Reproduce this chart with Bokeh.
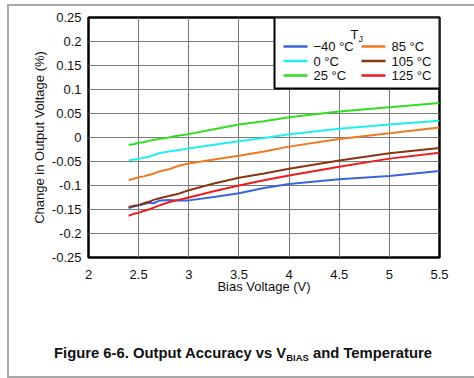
from bokeh.plotting import figure
from bokeh.models import Range1d, FixedTicker, Label, Div
from bokeh.layouts import column
from bokeh.embed import file_html
from bokeh.resources import INLINE

# ---- data ----
bias_v = [2.4, 2.45, 2.5, 2.55, 2.6, 2.65, 2.7, 2.8, 2.9, 3.0, 3.25, 3.5, 3.75, 4.0, 4.5, 5.0, 5.5]
t_m40 = [-0.147, -0.144, -0.141, -0.139, -0.136, -0.137, -0.132, -0.130, -0.131, -0.131, -0.124, -0.116, -0.105, -0.097, -0.087, -0.080, -0.070]
t_0 = [-0.048, -0.046, -0.045, -0.042, -0.040, -0.037, -0.033, -0.029, -0.026, -0.023, -0.015, -0.008, -0.001, 0.007, 0.018, 0.027, 0.035]
t_25 = [-0.015, -0.014, -0.011, -0.010, -0.007, -0.005, -0.003, 0.000, 0.004, 0.007, 0.017, 0.027, 0.034, 0.042, 0.054, 0.063, 0.072]
t_85 = [-0.089, -0.086, -0.083, -0.081, -0.078, -0.075, -0.071, -0.066, -0.059, -0.054, -0.046, -0.038, -0.029, -0.019, -0.003, 0.009, 0.021]
t_105 = [-0.145, -0.142, -0.141, -0.137, -0.134, -0.130, -0.127, -0.122, -0.117, -0.110, -0.096, -0.084, -0.075, -0.065, -0.048, -0.033, -0.022]
t_125 = [-0.163, -0.159, -0.157, -0.153, -0.150, -0.146, -0.142, -0.135, -0.130, -0.125, -0.112, -0.100, -0.089, -0.079, -0.061, -0.044, -0.032]

series_names = ["\u221240 \u00b0C", "0 \u00b0C", "25 \u00b0C", "85 \u00b0C", "105 \u00b0C", "125 \u00b0C"]
series_values = [t_m40, t_0, t_25, t_85, t_105, t_125]
series_colors = ["#3a64dc", "#22eeee", "#33dd22", "#f07a22", "#8b3510", "#ee1c1c"]

x_ticks = [2, 2.5, 3, 3.5, 4, 4.5, 5, 5.5]
x_tick_labels = ["2", "2.5", "3", "3.5", "4", "4.5", "5", "5.5"]
y_ticks = [-0.25, -0.2, -0.15, -0.1, -0.05, 0, 0.05, 0.1, 0.15, 0.2, 0.25]
y_tick_labels = ["-0.25", "-0.2", "-0.15", "-0.1", "-0.05", "0", "0.05", "0.1", "0.15", "0.2", "0.25"]

caption_main = "Figure 6-6. Output Accuracy vs V"
caption_sub = "BIAS"
caption_tail = " and Temperature"

FONT = "Liberation Sans"
XMIN, XMAX, YMIN, YMAX = 2.0, 5.5, -0.25, 0.25

# reference page-pixel geometry of the plot frame (for placing legend annotations)
FL, FR, FT, FB = 88, 439, 17, 257
def px2x(px):
    return XMIN + (px - FL) / (FR - FL) * (XMAX - XMIN)
def py2y(py):
    return YMAX - (py - FT) / (FB - FT) * (YMAX - YMIN)

p = figure(width=458, height=294, output_backend="svg", toolbar_location=None,
           x_range=Range1d(XMIN, XMAX), y_range=Range1d(YMIN, YMAX),
           min_border_left=79, min_border_right=28, min_border_top=11, min_border_bottom=43)

p.outline_line_color = "black"
p.outline_line_width = 2.5
p.background_fill_color = "white"
p.border_fill_color = "white"

for ax in (p.xaxis[0], p.yaxis[0]):
    ax.axis_line_color = None
    ax.major_tick_line_color = None
    ax.minor_tick_line_color = None
    ax.major_label_text_font = FONT
    ax.major_label_text_font_size = "13px"
    ax.major_label_text_color = "#111111"
    ax.axis_label_text_font = FONT
    ax.axis_label_text_font_size = "13px"
    ax.axis_label_text_font_style = "normal"
    ax.axis_label_text_color = "#111111"

p.xaxis.ticker = FixedTicker(ticks=x_ticks)
p.xaxis.major_label_overrides = {t: l for t, l in zip(x_ticks, x_tick_labels)}
p.yaxis.ticker = FixedTicker(ticks=y_ticks)
p.yaxis.major_label_overrides = {t: l for t, l in zip(y_ticks, y_tick_labels)}
p.xaxis.major_label_standoff = 6
p.yaxis.major_label_standoff = 1
p.xaxis.axis_label = "Bias Voltage (V)"
p.yaxis.axis_label = "Change in Output Voltage (%)"
p.xaxis.axis_label_standoff = -3
p.yaxis.axis_label_standoff = 2

p.xgrid.grid_line_color = "#7a7a7a"
p.ygrid.grid_line_color = "#7a7a7a"
p.xgrid.ticker = FixedTicker(ticks=x_ticks)
p.ygrid.ticker = FixedTicker(ticks=y_ticks)

for vals, col in zip(series_values, series_colors):
    p.line(bias_v, vals, line_color=col, line_width=2)

# ---- legend (manual, to allow the T_J subscript) ----
p.quad(left=[px2x(274)], right=[XMAX], top=[YMAX], bottom=[py2y(88)],
       fill_color="white", line_color="black", line_width=2)
rows_py = [46, 60.5, 75]
cols = [(283, 307, 313), (361, 385, 391)]
for i, (name, col) in enumerate(zip(series_names, series_colors)):
    c = cols[i // 3]
    r = rows_py[i % 3]
    p.segment(x0=[px2x(c[0])], x1=[px2x(c[1])], y0=[py2y(r)], y1=[py2y(r)],
              line_color=col, line_width=2.5)
    p.add_layout(Label(x=px2x(c[2]), y=py2y(r), text=name, text_font=FONT,
                       text_font_size="13px", text_baseline="middle", text_align="left",
                       text_color="#111111"))
p.add_layout(Label(x=px2x(350), y=py2y(34), text="T", text_font=FONT, text_font_size="13px",
                   text_baseline="alphabetic", text_align="left", text_color="#111111"))
p.add_layout(Label(x=px2x(358), y=py2y(38), text="J", text_font=FONT, text_font_size="9px",
                   text_baseline="alphabetic", text_align="left", text_color="#111111"))

# ---- caption ----
caption = Div(
    text=(f'<div style="width:458px; margin-top:39px; text-align:center; font-family:\'{FONT}\'; '
          f'font-size:14.8px; font-weight:bold; color:#111; white-space:nowrap; line-height:18px;">'
          f'{caption_main}<sub style="font-size:9.5px; vertical-align:-3px;">{caption_sub}</sub>{caption_tail}</div>'),
    width=458, height=66, styles={"width": "458px", "height": "66px", "overflow": "hidden"})

layout = column(p, caption, spacing=0,
                styles={"margin-left": "7px", "margin-top": "4px",
                        "border": "2px solid #a8a8a8", "background-color": "white"})

open("out.html", "w").write(file_html(layout, INLINE))
